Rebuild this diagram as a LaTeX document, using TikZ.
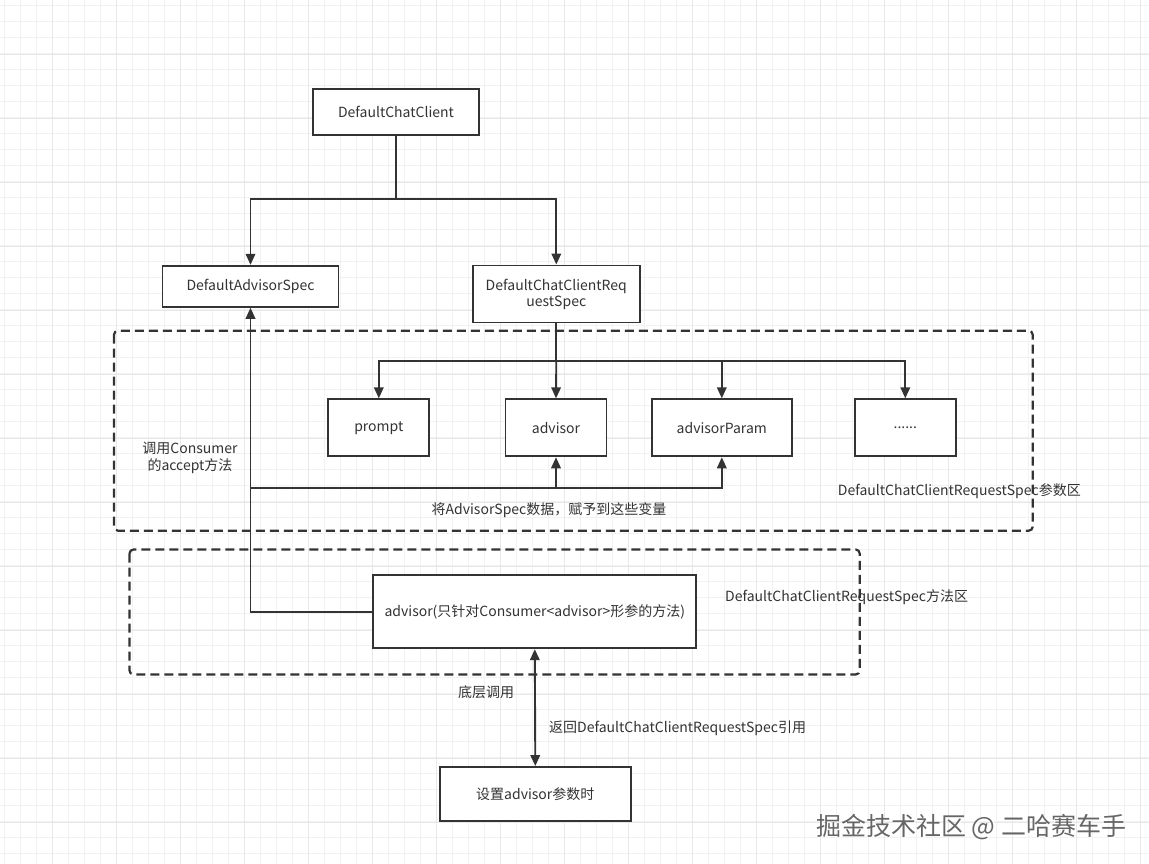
\documentclass[tikz,border=0pt]{standalone}
\usepackage{fontspec}
\setmainfont{Noto Sans CJK SC}
\usetikzlibrary{arrows.meta}
\definecolor{ln}{HTML}{333333}
\definecolor{gminor}{HTML}{F2F2F2}
\definecolor{gmajor}{HTML}{E8E8E8}
\definecolor{txt}{HTML}{333333}
\tikzset{
  box/.style={draw=ln, line width=1.9pt, fill=white, rectangle, inner sep=2pt, align=center, text=txt, font=\fontsize{14}{17}\selectfont},
  lbl/.style={text=txt, font=\fontsize{14}{17}\selectfont, inner sep=0pt, align=center},
  wire/.style={draw=ln, line width=1.9pt},
  arr/.style={wire, -{Triangle[length=11pt,width=9.5pt]}},
  darr/.style={wire, {Triangle[length=11pt,width=9.5pt]}-{Triangle[length=11pt,width=9.5pt]}},
  zone/.style={draw=ln, line width=2.2pt, dash pattern=on 9pt off 5pt, rounded corners=4pt},
}
\begin{document}
\begin{tikzpicture}[x=1pt,y=-1pt]
\useasboundingbox (0,0) rectangle (1149,864);
\fill[white] (0,0) rectangle (1149,864);
% grid
\foreach \i in {0,...,72} {
  \pgfmathsetmacro\xx{4.7+16*\i}
  \draw[gminor, line width=1pt] (\xx,0) -- (\xx,864);
}
\foreach \i in {0,...,54} {
  \pgfmathsetmacro\yy{5.5+16*\i}
  \draw[gminor, line width=1pt] (0,\yy) -- (1149,\yy);
}
\foreach \i in {0,...,18} {
  \pgfmathsetmacro\xx{52.7+64*\i}
  \draw[gmajor, line width=1pt] (\xx,0) -- (\xx,864);
}
\foreach \i in {0,...,13} {
  \pgfmathsetmacro\yy{54.3+64*\i}
  \draw[gmajor, line width=1pt] (0,\yy) -- (1149,\yy);
}

% zones
\draw[zone] (114,330.7) rectangle (1032.7,530.7);
\draw[zone] (129.5,549.5) rectangle (859.7,674.5);

% nodes
\node[box, minimum width=166pt, minimum height=46pt] (dcc) at (396,112) {DefaultChatClient};
\node[box, minimum width=176pt, minimum height=41pt] (das) at (250.5,286.3) {DefaultAdvisorSpec};
\node[box, minimum width=167pt, minimum height=57pt, font=\fontsize{14}{16}\selectfont] (dccrs) at (556.3,294) {DefaultChatClientReq\\uestSpec};
\node[box, minimum width=101pt, minimum height=57pt] (prompt) at (378.8,427.8) {prompt};
\node[box, minimum width=101pt, minimum height=57pt] (adv) at (556,427.8) {advisor};
\node[box, minimum width=140pt, minimum height=57pt] (advp) at (721.8,427.8) {advisorParam};
\node[box, minimum width=101pt, minimum height=57pt] (dots) at (905.3,427.8) {......};
\node[box, minimum width=323pt, minimum height=73pt] (method) at (534.8,611.7) {advisor(只针对Consumer<advisor>形参的方法)};
\node[box, minimum width=191pt, minimum height=54pt] (setb) at (535.3,794) {设置advisor参数时};

% junctions
\coordinate (j1) at (396,199.3);
\coordinate (j2) at (556.3,360.7);
\coordinate (j3) at (250.5,487.7);

% connectors
\draw[wire] (dcc.south) -- (j1);
\draw[arr] (j1) -| (das.north);
\draw[arr] (j1) -| (dccrs.north);
\draw[wire] (dccrs.south) -- (j2);
\draw[arr] (j2) -| (prompt.north);
\draw[arr] (j2) -- (adv.north);
\draw[arr] (j2) -| (advp.north);
\draw[arr] (j2) -| (dots.north);
\draw[arr] (method.west) -| (das.south);
\draw[arr] (j3) -| (adv.south);
\draw[arr] (j3) -| (advp.south);
\draw[darr] (setb.north) -- (method.south);

% labels
\node[lbl] (l1) at (190,458) {调用Consumer\\的accept方法};
\node[lbl] (l2) at (549,510) {将AdvisorSpec数据，赋予到这些变量};
\node[lbl, anchor=west] (l3) at (837.7,491) {DefaultChatClientRequestSpec参数区};
\node[lbl, anchor=west] (l4) at (725,597) {DefaultChatClientRequestSpec方法区};
\node[lbl] (l5) at (486,692) {底层调用};
\node[lbl, anchor=west] (l6) at (549,728.3) {返回DefaultChatClientRequestSpec引用};

% watermark
\node[lbl, anchor=west, text=white, font=\fontsize{25}{28}\selectfont] at (817.5,828.5) {掘金技术社区 @ 二哈赛车手};
\node[lbl, anchor=west, text=black!60, font=\fontsize{25}{28}\selectfont] (wm) at (816,827) {掘金技术社区 @ 二哈赛车手};
\end{tikzpicture}
\end{document}
